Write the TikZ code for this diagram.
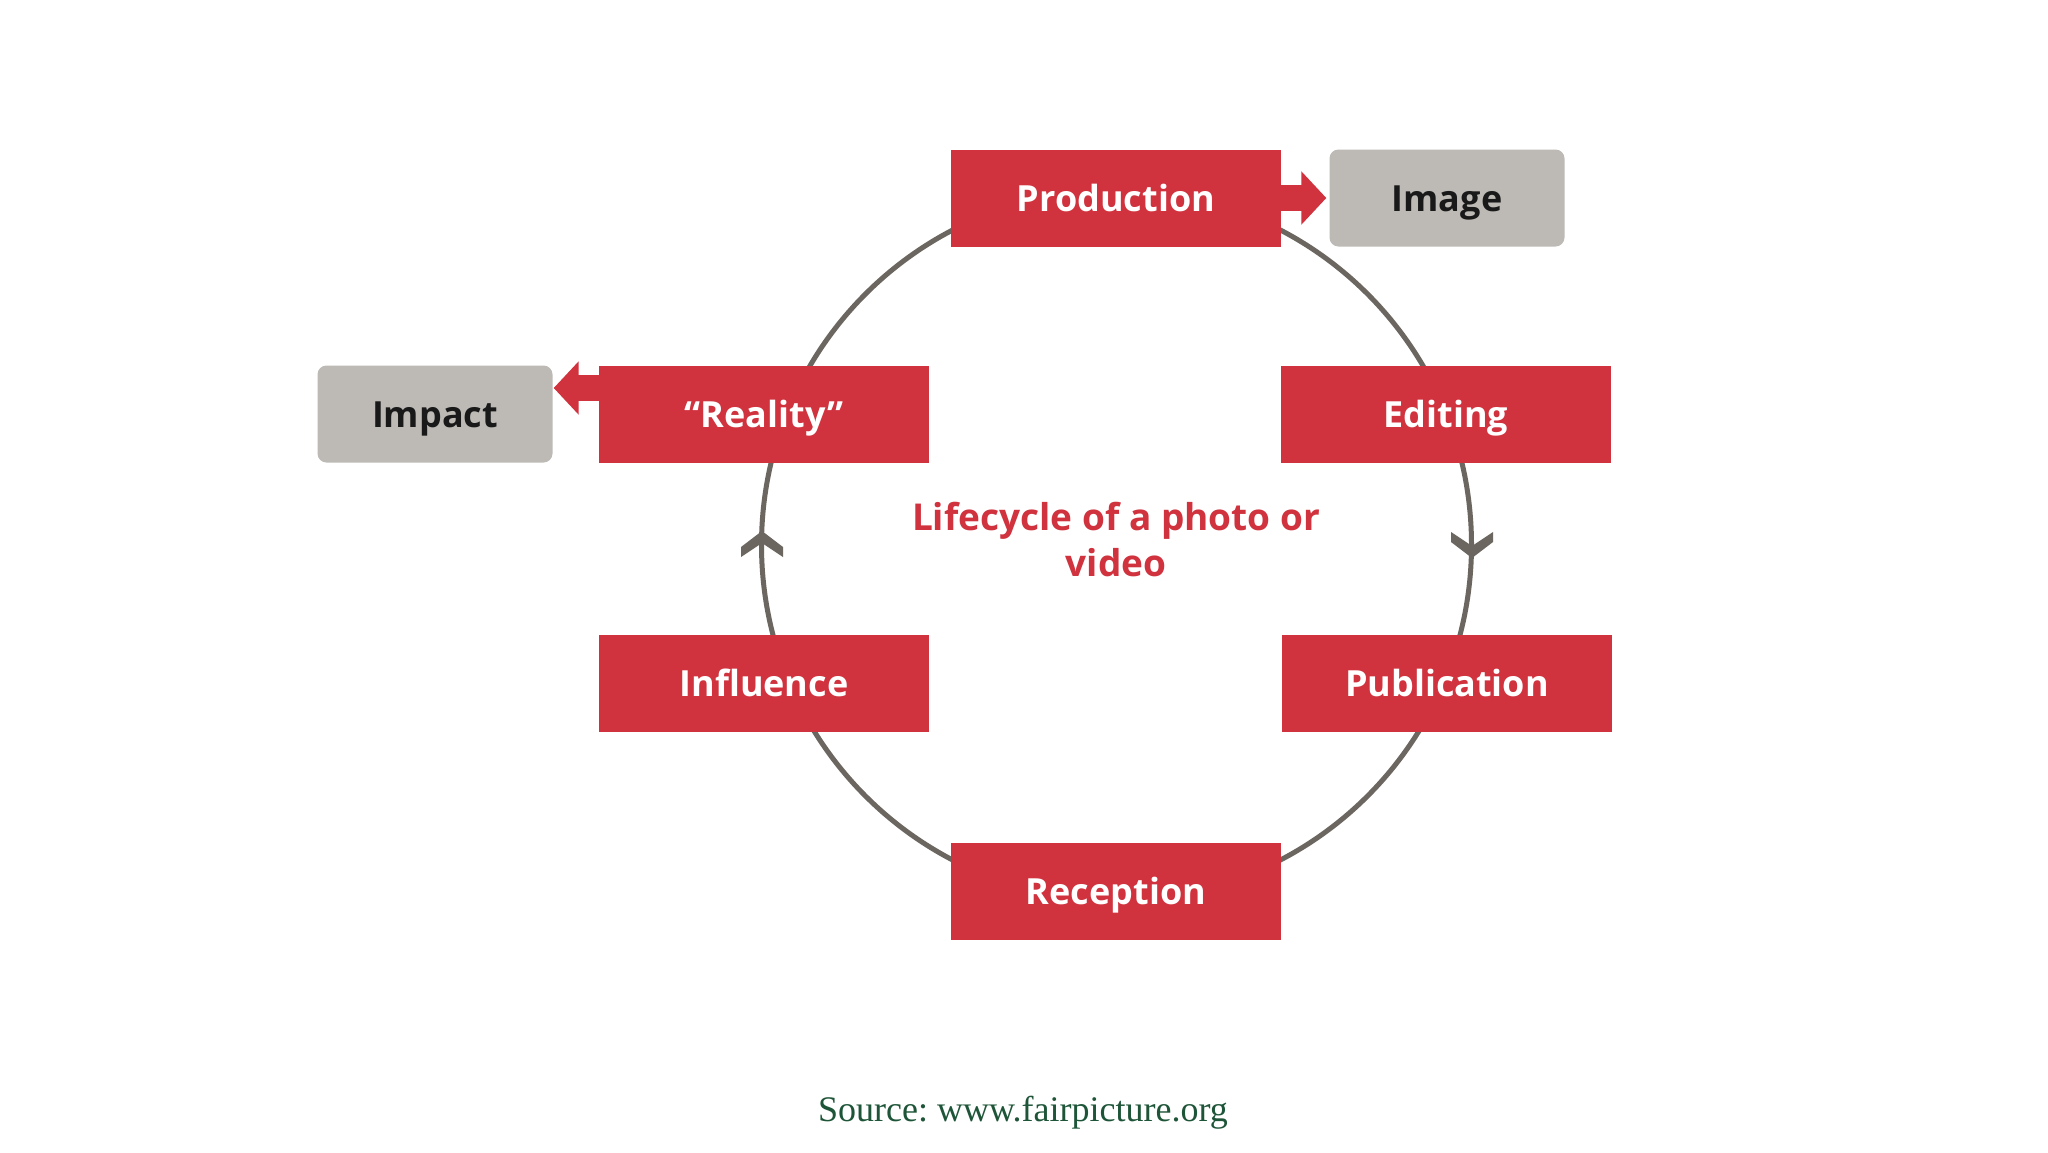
\documentclass[tikz,border=0pt]{standalone}
\usepackage{fontspec}
\setmainfont{Open Sans}
\newfontfamily\srcfont{Liberation Serif}
\usetikzlibrary{arrows.meta,calc}
\definecolor{boxred}{HTML}{D0323E}
\definecolor{boxgray}{HTML}{BDBAB6}
\definecolor{ringgray}{HTML}{6B665F}
\definecolor{srcgreen}{HTML}{1E5538}
\tikzset{
  stage/.style={fill=boxred, text=white, minimum width=330pt, minimum height=97pt, inner sep=0pt,
    text height=30pt, text depth=3pt, font=\fontsize{36}{42}\selectfont\bfseries},
  outcome/.style={fill=boxgray, text=black!90, minimum width=235pt, minimum height=97pt, inner sep=0pt,
    text height=30pt, text depth=3pt, rounded corners=9pt, font=\fontsize{36}{42}\selectfont\bfseries},
  blockarrow/.style={draw=boxred, line width=26pt, -{Triangle[width=52pt,length=25pt]}},
  ring/.style={draw=ringgray, line width=5pt},
  chevron/.style={fill=ringgray}
}
\begin{document}
\begin{tikzpicture}[x=1pt,y=-1pt]
\useasboundingbox (0,0) rectangle (2048,1152);
\fill[white] (0,0) rectangle (2048,1152);
\coordinate (c) at (1116.5,545);
\draw[ring] (c) circle[radius=355];
% chevrons
\fill[chevron] (762,531) -- (783,547) -- (783,557) -- (762,543) -- (741,557) -- (741,547) -- cycle;
\fill[chevron] (1472,558) -- (1493,542) -- (1493,532) -- (1472,546) -- (1451,532) -- (1451,542) -- cycle;
% nodes
\node[stage] (prod) at (1116,198) {Production};
\node[stage] (edit) at (1446,414) {Editing};
\node[stage] (pub) at (1447,683) {Publication};
\node[stage] (rec) at (1116,891) {Reception};
\node[stage] (infl) at (764,683) {Influence};
\node[stage] (real) at (764,414) {“Reality”};
\node[outcome] (img) at (1447,198) {Image};
\node[outcome] (imp) at (435,414) {Impact};
\node[text=boxred, align=center, font=\fontsize{37}{46}\selectfont\bfseries] (title) at (1116,540) {Lifecycle of a photo or\\video};
\node[text=srcgreen, font=\srcfont\fontsize{36}{42}\selectfont] (src) at (1023,1113) {\frenchspacing Source: www.fairpicture.org};
% block arrows
\coordinate (ya) at (0,388);
\draw[blockarrow] (prod.east) -- ([xshift=-3pt]img.west);
\draw[blockarrow] (real.west |- ya) -- ([xshift=1pt]imp.east |- ya);
\end{tikzpicture}
\end{document}
